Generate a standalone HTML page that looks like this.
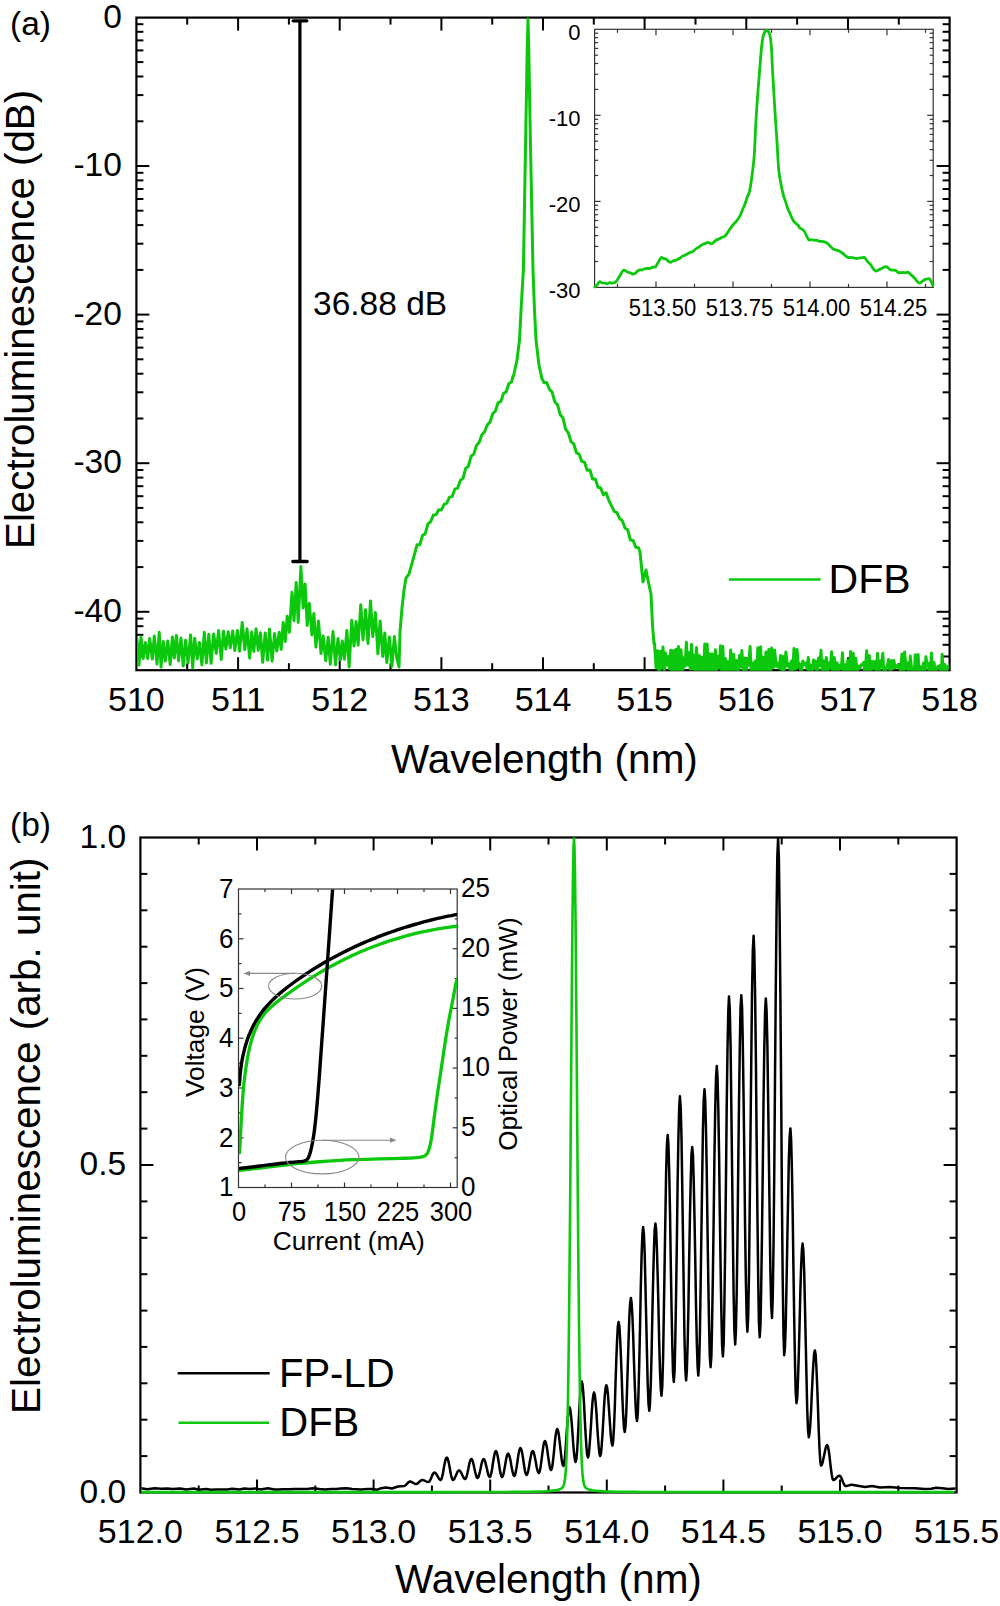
<!DOCTYPE html>
<html><head><meta charset="utf-8"><style>
html,body{margin:0;padding:0;background:#fff;}
svg{display:block;}
text{font-family:"Liberation Sans",sans-serif;fill:#000;}
</style></head><body>
<svg width="1000" height="1606" viewBox="0 0 1000 1606">
<rect width="1000" height="1606" fill="#fff"/>
<rect x="136.4" y="17.6" width="813.2" height="652.6" fill="none" stroke="#000" stroke-width="2.2"/>
<text x="136.4" y="710.6" font-size="34" text-anchor="middle" >510</text>
<line x1="187.2" y1="670.2" x2="187.2" y2="663.2" stroke="#000" stroke-width="2"/>
<line x1="187.2" y1="17.6" x2="187.2" y2="24.6" stroke="#000" stroke-width="2"/>
<line x1="238.1" y1="670.2" x2="238.1" y2="657.2" stroke="#000" stroke-width="2"/>
<line x1="238.1" y1="17.6" x2="238.1" y2="30.6" stroke="#000" stroke-width="2"/>
<text x="238.1" y="710.6" font-size="34" text-anchor="middle" >511</text>
<line x1="288.9" y1="670.2" x2="288.9" y2="663.2" stroke="#000" stroke-width="2"/>
<line x1="288.9" y1="17.6" x2="288.9" y2="24.6" stroke="#000" stroke-width="2"/>
<line x1="339.7" y1="670.2" x2="339.7" y2="657.2" stroke="#000" stroke-width="2"/>
<line x1="339.7" y1="17.6" x2="339.7" y2="30.6" stroke="#000" stroke-width="2"/>
<text x="339.7" y="710.6" font-size="34" text-anchor="middle" >512</text>
<line x1="390.5" y1="670.2" x2="390.5" y2="663.2" stroke="#000" stroke-width="2"/>
<line x1="390.5" y1="17.6" x2="390.5" y2="24.6" stroke="#000" stroke-width="2"/>
<line x1="441.4" y1="670.2" x2="441.4" y2="657.2" stroke="#000" stroke-width="2"/>
<line x1="441.4" y1="17.6" x2="441.4" y2="30.6" stroke="#000" stroke-width="2"/>
<text x="441.4" y="710.6" font-size="34" text-anchor="middle" >513</text>
<line x1="492.2" y1="670.2" x2="492.2" y2="663.2" stroke="#000" stroke-width="2"/>
<line x1="492.2" y1="17.6" x2="492.2" y2="24.6" stroke="#000" stroke-width="2"/>
<line x1="543" y1="670.2" x2="543" y2="657.2" stroke="#000" stroke-width="2"/>
<line x1="543" y1="17.6" x2="543" y2="30.6" stroke="#000" stroke-width="2"/>
<text x="543" y="710.6" font-size="34" text-anchor="middle" >514</text>
<line x1="593.8" y1="670.2" x2="593.8" y2="663.2" stroke="#000" stroke-width="2"/>
<line x1="593.8" y1="17.6" x2="593.8" y2="24.6" stroke="#000" stroke-width="2"/>
<line x1="644.6" y1="670.2" x2="644.6" y2="657.2" stroke="#000" stroke-width="2"/>
<line x1="644.6" y1="17.6" x2="644.6" y2="30.6" stroke="#000" stroke-width="2"/>
<text x="644.6" y="710.6" font-size="34" text-anchor="middle" >515</text>
<line x1="695.5" y1="670.2" x2="695.5" y2="663.2" stroke="#000" stroke-width="2"/>
<line x1="695.5" y1="17.6" x2="695.5" y2="24.6" stroke="#000" stroke-width="2"/>
<line x1="746.3" y1="670.2" x2="746.3" y2="657.2" stroke="#000" stroke-width="2"/>
<line x1="746.3" y1="17.6" x2="746.3" y2="30.6" stroke="#000" stroke-width="2"/>
<text x="746.3" y="710.6" font-size="34" text-anchor="middle" >516</text>
<line x1="797.1" y1="670.2" x2="797.1" y2="663.2" stroke="#000" stroke-width="2"/>
<line x1="797.1" y1="17.6" x2="797.1" y2="24.6" stroke="#000" stroke-width="2"/>
<line x1="848" y1="670.2" x2="848" y2="657.2" stroke="#000" stroke-width="2"/>
<line x1="848" y1="17.6" x2="848" y2="30.6" stroke="#000" stroke-width="2"/>
<text x="848" y="710.6" font-size="34" text-anchor="middle" >517</text>
<line x1="898.8" y1="670.2" x2="898.8" y2="663.2" stroke="#000" stroke-width="2"/>
<line x1="898.8" y1="17.6" x2="898.8" y2="24.6" stroke="#000" stroke-width="2"/>
<text x="949.6" y="710.6" font-size="34" text-anchor="middle" >518</text>
<text x="121.9" y="27.6" font-size="33.5" text-anchor="end" >0</text>
<line x1="136.4" y1="24.2" x2="143.4" y2="24.2" stroke="#000" stroke-width="2"/>
<line x1="949.6" y1="24.2" x2="942.6" y2="24.2" stroke="#000" stroke-width="2"/>
<line x1="136.4" y1="31.8" x2="143.4" y2="31.8" stroke="#000" stroke-width="2"/>
<line x1="949.6" y1="31.8" x2="942.6" y2="31.8" stroke="#000" stroke-width="2"/>
<line x1="136.4" y1="40.4" x2="143.4" y2="40.4" stroke="#000" stroke-width="2"/>
<line x1="949.6" y1="40.4" x2="942.6" y2="40.4" stroke="#000" stroke-width="2"/>
<line x1="136.4" y1="50.4" x2="143.4" y2="50.4" stroke="#000" stroke-width="2"/>
<line x1="949.6" y1="50.4" x2="942.6" y2="50.4" stroke="#000" stroke-width="2"/>
<line x1="136.4" y1="62.1" x2="143.4" y2="62.1" stroke="#000" stroke-width="2"/>
<line x1="949.6" y1="62.1" x2="942.6" y2="62.1" stroke="#000" stroke-width="2"/>
<line x1="136.4" y1="76.5" x2="143.4" y2="76.5" stroke="#000" stroke-width="2"/>
<line x1="949.6" y1="76.5" x2="942.6" y2="76.5" stroke="#000" stroke-width="2"/>
<line x1="136.4" y1="95.1" x2="143.4" y2="95.1" stroke="#000" stroke-width="2"/>
<line x1="949.6" y1="95.1" x2="942.6" y2="95.1" stroke="#000" stroke-width="2"/>
<line x1="136.4" y1="121.3" x2="143.4" y2="121.3" stroke="#000" stroke-width="2"/>
<line x1="949.6" y1="121.3" x2="942.6" y2="121.3" stroke="#000" stroke-width="2"/>
<line x1="136.4" y1="166" x2="149.4" y2="166" stroke="#000" stroke-width="2"/>
<line x1="949.6" y1="166" x2="936.6" y2="166" stroke="#000" stroke-width="2"/>
<text x="121.9" y="176.2" font-size="33.5" text-anchor="end" >-10</text>
<line x1="136.4" y1="172.8" x2="143.4" y2="172.8" stroke="#000" stroke-width="2"/>
<line x1="949.6" y1="172.8" x2="942.6" y2="172.8" stroke="#000" stroke-width="2"/>
<line x1="136.4" y1="180.4" x2="143.4" y2="180.4" stroke="#000" stroke-width="2"/>
<line x1="949.6" y1="180.4" x2="942.6" y2="180.4" stroke="#000" stroke-width="2"/>
<line x1="136.4" y1="189" x2="143.4" y2="189" stroke="#000" stroke-width="2"/>
<line x1="949.6" y1="189" x2="942.6" y2="189" stroke="#000" stroke-width="2"/>
<line x1="136.4" y1="199" x2="143.4" y2="199" stroke="#000" stroke-width="2"/>
<line x1="949.6" y1="199" x2="942.6" y2="199" stroke="#000" stroke-width="2"/>
<line x1="136.4" y1="210.7" x2="143.4" y2="210.7" stroke="#000" stroke-width="2"/>
<line x1="949.6" y1="210.7" x2="942.6" y2="210.7" stroke="#000" stroke-width="2"/>
<line x1="136.4" y1="225.1" x2="143.4" y2="225.1" stroke="#000" stroke-width="2"/>
<line x1="949.6" y1="225.1" x2="942.6" y2="225.1" stroke="#000" stroke-width="2"/>
<line x1="136.4" y1="243.7" x2="143.4" y2="243.7" stroke="#000" stroke-width="2"/>
<line x1="949.6" y1="243.7" x2="942.6" y2="243.7" stroke="#000" stroke-width="2"/>
<line x1="136.4" y1="269.9" x2="143.4" y2="269.9" stroke="#000" stroke-width="2"/>
<line x1="949.6" y1="269.9" x2="942.6" y2="269.9" stroke="#000" stroke-width="2"/>
<line x1="136.4" y1="314.6" x2="149.4" y2="314.6" stroke="#000" stroke-width="2"/>
<line x1="949.6" y1="314.6" x2="936.6" y2="314.6" stroke="#000" stroke-width="2"/>
<text x="121.9" y="324.8" font-size="33.5" text-anchor="end" >-20</text>
<line x1="136.4" y1="321.4" x2="143.4" y2="321.4" stroke="#000" stroke-width="2"/>
<line x1="949.6" y1="321.4" x2="942.6" y2="321.4" stroke="#000" stroke-width="2"/>
<line x1="136.4" y1="329" x2="143.4" y2="329" stroke="#000" stroke-width="2"/>
<line x1="949.6" y1="329" x2="942.6" y2="329" stroke="#000" stroke-width="2"/>
<line x1="136.4" y1="337.6" x2="143.4" y2="337.6" stroke="#000" stroke-width="2"/>
<line x1="949.6" y1="337.6" x2="942.6" y2="337.6" stroke="#000" stroke-width="2"/>
<line x1="136.4" y1="347.6" x2="143.4" y2="347.6" stroke="#000" stroke-width="2"/>
<line x1="949.6" y1="347.6" x2="942.6" y2="347.6" stroke="#000" stroke-width="2"/>
<line x1="136.4" y1="359.3" x2="143.4" y2="359.3" stroke="#000" stroke-width="2"/>
<line x1="949.6" y1="359.3" x2="942.6" y2="359.3" stroke="#000" stroke-width="2"/>
<line x1="136.4" y1="373.7" x2="143.4" y2="373.7" stroke="#000" stroke-width="2"/>
<line x1="949.6" y1="373.7" x2="942.6" y2="373.7" stroke="#000" stroke-width="2"/>
<line x1="136.4" y1="392.3" x2="143.4" y2="392.3" stroke="#000" stroke-width="2"/>
<line x1="949.6" y1="392.3" x2="942.6" y2="392.3" stroke="#000" stroke-width="2"/>
<line x1="136.4" y1="418.5" x2="143.4" y2="418.5" stroke="#000" stroke-width="2"/>
<line x1="949.6" y1="418.5" x2="942.6" y2="418.5" stroke="#000" stroke-width="2"/>
<line x1="136.4" y1="463.2" x2="149.4" y2="463.2" stroke="#000" stroke-width="2"/>
<line x1="949.6" y1="463.2" x2="936.6" y2="463.2" stroke="#000" stroke-width="2"/>
<text x="121.9" y="473.4" font-size="33.5" text-anchor="end" >-30</text>
<line x1="136.4" y1="470" x2="143.4" y2="470" stroke="#000" stroke-width="2"/>
<line x1="949.6" y1="470" x2="942.6" y2="470" stroke="#000" stroke-width="2"/>
<line x1="136.4" y1="477.6" x2="143.4" y2="477.6" stroke="#000" stroke-width="2"/>
<line x1="949.6" y1="477.6" x2="942.6" y2="477.6" stroke="#000" stroke-width="2"/>
<line x1="136.4" y1="486.2" x2="143.4" y2="486.2" stroke="#000" stroke-width="2"/>
<line x1="949.6" y1="486.2" x2="942.6" y2="486.2" stroke="#000" stroke-width="2"/>
<line x1="136.4" y1="496.2" x2="143.4" y2="496.2" stroke="#000" stroke-width="2"/>
<line x1="949.6" y1="496.2" x2="942.6" y2="496.2" stroke="#000" stroke-width="2"/>
<line x1="136.4" y1="507.9" x2="143.4" y2="507.9" stroke="#000" stroke-width="2"/>
<line x1="949.6" y1="507.9" x2="942.6" y2="507.9" stroke="#000" stroke-width="2"/>
<line x1="136.4" y1="522.3" x2="143.4" y2="522.3" stroke="#000" stroke-width="2"/>
<line x1="949.6" y1="522.3" x2="942.6" y2="522.3" stroke="#000" stroke-width="2"/>
<line x1="136.4" y1="540.9" x2="143.4" y2="540.9" stroke="#000" stroke-width="2"/>
<line x1="949.6" y1="540.9" x2="942.6" y2="540.9" stroke="#000" stroke-width="2"/>
<line x1="136.4" y1="567.1" x2="143.4" y2="567.1" stroke="#000" stroke-width="2"/>
<line x1="949.6" y1="567.1" x2="942.6" y2="567.1" stroke="#000" stroke-width="2"/>
<line x1="136.4" y1="611.8" x2="149.4" y2="611.8" stroke="#000" stroke-width="2"/>
<line x1="949.6" y1="611.8" x2="936.6" y2="611.8" stroke="#000" stroke-width="2"/>
<text x="121.9" y="622" font-size="33.5" text-anchor="end" >-40</text>
<line x1="136.4" y1="618.6" x2="143.4" y2="618.6" stroke="#000" stroke-width="2"/>
<line x1="949.6" y1="618.6" x2="942.6" y2="618.6" stroke="#000" stroke-width="2"/>
<line x1="136.4" y1="626.2" x2="143.4" y2="626.2" stroke="#000" stroke-width="2"/>
<line x1="949.6" y1="626.2" x2="942.6" y2="626.2" stroke="#000" stroke-width="2"/>
<line x1="136.4" y1="634.8" x2="143.4" y2="634.8" stroke="#000" stroke-width="2"/>
<line x1="949.6" y1="634.8" x2="942.6" y2="634.8" stroke="#000" stroke-width="2"/>
<line x1="136.4" y1="644.8" x2="143.4" y2="644.8" stroke="#000" stroke-width="2"/>
<line x1="949.6" y1="644.8" x2="942.6" y2="644.8" stroke="#000" stroke-width="2"/>
<line x1="136.4" y1="656.5" x2="143.4" y2="656.5" stroke="#000" stroke-width="2"/>
<line x1="949.6" y1="656.5" x2="942.6" y2="656.5" stroke="#000" stroke-width="2"/>
<clipPath id="ca"><rect x="137" y="0" width="812" height="670.8"/></clipPath>
<g clip-path="url(#ca)">
<path d="M137,639.5 L139,665.1 L141,637.1 L143.2,658.5 L145.5,642.6 L147.7,658.6 L149.7,638.4 L152.3,659.1 L154.3,636.1 L157,664 L159.2,632.3 L161.1,667.1 L163.3,641.4 L165.3,661 L167.8,641 L170.2,664.5 L172.4,636.9 L174.3,658.1 L176.4,635.5 L178.6,660.9 L181,638 L183.2,666 L185.6,640.2 L188,663 L190.6,634.9 L192.7,667.9 L194.7,638.3 L197.2,658.9 L199.5,642.4 L201.9,664.9 L204.3,632.2 L206.4,663 L208.8,634.2 L211.1,663.3 L213.7,634 L216.2,653.4 L218.6,630.4 L221.3,659.5 L223.5,631.3 L225.9,649.1 L228.2,631.7 L230.2,647.8 L232.7,630.9 L234.8,650.5 L237.4,630.5 L239.6,651.2 L242.2,622.5 L244.8,649.5 L247,628.8 L249.7,658.1 L251.7,632 L253.8,651.4 L256.1,628.8 L258.2,650.4 L260.4,632.8 L262.7,662.3 L265.2,632.9 L267.6,660.1 L269.5,629.1 L272.1,661.2 L274.6,633.6 L276.8,651.1 L279.2,632.3 L281.2,649.3 L283.2,622.4 L285.2,641.6 L287.2,616.2 L289.4,632.2 L292,592.3 L294,620.7 L296.2,582.6 L298.2,622.4 L300.9,566.5 L303.1,607.9 L305.1,583.9 L307.2,625.4 L309.3,603.3 L311.9,634.9 L313.9,613.4 L315.9,647.1 L318.5,621 L321,653.6 L323.2,635.9 L325.7,660.7 L328.2,637.3 L330.3,664.3 L333,631.6 L335.5,664.8 L338,638.6 L340.4,660 L342.3,640.9 L344.4,659.2 L346.9,630.5 L349.1,666.9 L351.8,620.2 L354,646 L356.1,621.4 L358.1,645.1 L360.8,604.7 L363,639.8 L365.6,609.7 L368,643.5 L370.5,600.9 L372.8,636.6 L375.4,612.6 L377.9,653.8 L380.1,620.9 L382.8,656.5 L384.8,632.9 L386.8,662.6 L389.4,637.1 L391.9,666.3 L394.4,636.5 L396.7,657.8 L399,667 L400,632 L401,620 L402,608 L403,599 L404,590 L405,584 L406,578 L407,576.7 L408,575.3 L409,574 L411.7,564.3 L414.4,554.7 L417.1,544.7 L419.8,544.8 L422.5,535.5 L425.2,533.9 L427.9,523.9 L430.6,521.8 L433.3,515.1 L436,514.7 L438.7,509.7 L441.4,509.9 L444.1,504.3 L446.8,503.2 L449.5,497.1 L452.2,496.6 L454.9,489.1 L457.6,488.2 L460.3,480.4 L463,478.4 L465.7,468.4 L468.4,466.1 L471.1,456.2 L473.8,454.1 L476.5,445.4 L479.2,442.2 L481.9,434.7 L484.6,431.8 L487.3,424.8 L490,422.2 L492.7,413.7 L495.4,411 L498.1,402.6 L500.8,401.5 L503.5,393.6 L506.2,391.7 L508.9,383.5 L511.6,382 L513,376.2 L513.5,376 L513.8,374.6 L514.3,372.3 L514.6,371 L515.4,367.3 L516.2,363.7 L517,360 L517.8,353.6 L518.6,347.2 L519.4,340.8 L519.5,340 L519.7,336.2 L520.2,326.7 L521,311.4 L521.6,300 L521.8,296.7 L522.4,286.7 L522.6,283.3 L523.4,270 L524.2,223.3 L524.6,200 L525,177.1 L525.1,171.4 L525.8,131.4 L526,120 L526.6,85 L527.2,50 L527.4,42.3 L527.8,26.8 L528,19 L528.2,26.8 L528.8,50 L529,61.7 L529.8,108.3 L530,120 L530.5,145 L530.6,150 L531.4,190 L531.6,200 L532.2,230 L533,270 L533.2,275.3 L533.8,291.3 L534.5,310 L534.6,312 L535.4,328 L535.9,338 L536,340 L536.2,341.7 L537,348.3 L537.8,355 L538.6,361.7 L539,365 L539.4,366.9 L540.2,370.6 L541,374.3 L541.3,375.7 L541.8,378.1 L542,379 L542.6,379.6 L544,382.7 L546.7,382.6 L549.4,389.3 L552.1,392.1 L554.8,401.9 L557.5,404.7 L560.2,414.7 L562.9,417.7 L565.6,429.2 L568.3,432.8 L571,441.6 L573.7,443.8 L576.4,452.8 L579.1,454.1 L581.8,461.4 L584.5,462.2 L587.2,470.3 L589.9,469.9 L592.6,479 L595.3,478.9 L598,487.3 L600.7,488 L603.4,494.9 L606.1,492.8 L608.8,500.3 L611.5,505.8 L614.2,511.3 L616.9,512.6 L619.6,518.5 L622.3,520.7 L625,528.1 L627.7,529.8 L630.4,540 L633.1,540.4 L635.8,547.3 L638.5,547.7 L640,552 L643,582 L646,570 L649,585 L650,589.5 L651,594 L652,614.7 L652.5,625 L653,631.3 L654,644 L654.5,643.3 L656.1,668 L657.7,650.7 L659.3,679 L660.4,651.3 L661.7,667.5 L663,647.1 L664.3,671.9 L665.5,652.9 L666.8,665.2 L668.4,656.4 L669.6,668.8 L670.7,650.3 L671.8,671.6 L673.4,650.5 L674.6,680.5 L676,649.3 L677.1,676.4 L678.4,646.4 L679.8,678.4 L681,649.7 L682.5,672.2 L683.8,657.7 L685,666.3 L686.4,642.3 L687.5,664.9 L688.7,652.6 L690.2,669.2 L691.6,644.2 L692.7,668.5 L693.8,655.3 L695,672.5 L696.5,647.6 L697.9,672.9 L699.4,655.5 L700.8,681.7 L702.1,657.5 L703.5,671.3 L704.8,644.1 L705.9,677.3 L707.1,643.9 L708.7,679.7 L710.1,653.8 L711.3,672.3 L712.5,654.1 L714.1,681.5 L715.5,649.7 L716.7,670.4 L717.8,656.3 L719.2,667.6 L720.5,645.8 L721.7,671.2 L722.8,646.2 L724,674.5 L725.4,658.4 L726.8,679.8 L728.1,661.6 L729.3,677 L730.7,649.9 L732.3,675.3 L733.7,654.3 L735.1,673.1 L736.6,660.6 L738,680.1 L739.5,655.4 L740.6,666.4 L741.9,650.5 L743.2,675.3 L744.6,658.1 L745.8,678.4 L747.2,658.7 L748.7,665.2 L750.1,646.5 L751.4,677.1 L752.6,662.9 L753.9,670.9 L755.2,661.1 L756.7,675.6 L757.8,647.8 L759.3,669.5 L760.6,646.8 L761.9,676.1 L763.3,657.2 L764.7,672.4 L766,652 L767.2,681.6 L768.8,649.5 L770.3,681.4 L771.6,648.1 L773.2,667.8 L774.6,650.1 L776.2,666.4 L777.7,663.1 L779.1,668.2 L780.7,655.5 L781.8,672.9 L783.1,656.6 L784.4,669.7 L785.9,651.9 L787.4,666.2 L789,663.7 L790.2,670.7 L791.5,661 L792.8,671.7 L794,648.4 L795.6,669.1 L797.1,649.5 L798.5,667.4 L799.8,663.9 L801.3,675.4 L802.8,661.1 L804.3,664.9 L805.7,663 L807.2,669.2 L808.3,657.5 L809.6,670.2 L810.9,665.2 L812.1,675.8 L813.4,660.1 L814.5,666.9 L815.7,661.1 L817,680.3 L818.6,658 L819.8,665.6 L821,650.3 L822.3,674.3 L823.8,660.7 L825.1,673.4 L826.4,657.6 L827.6,681.4 L828.8,662.8 L830.3,667.9 L831.6,651.7 L832.9,681.2 L834.4,657.6 L835.5,676.8 L837.1,662.8 L838.2,671 L839.7,665.3 L841.3,668.5 L842.5,652.8 L843.9,680.9 L845.4,664.7 L846.7,673.9 L847.8,660 L849.4,675.6 L850.6,651.5 L852.1,676.6 L853.2,653.2 L854.6,671 L855.8,658.3 L857.1,672.3 L858.6,666.2 L860,668.2 L861.2,664.7 L862.5,664.4 L863.8,662.2 L865,676 L866.6,650.7 L867.9,671.6 L869.3,655.4 L870.8,673.1 L872,661.5 L873.5,668.2 L874.7,661.4 L876.3,672.9 L877.5,653.3 L878.9,681.1 L880.1,660.8 L881.7,666.6 L882.8,653.3 L884.3,679.9 L885.8,667.5 L887.1,667.3 L888.6,659.4 L890.1,670.8 L891.4,660.8 L892.5,669 L893.7,660.4 L895.3,667.7 L896.6,666.8 L897.9,664.9 L899.3,667.8 L900.4,670.6 L902,654 L903.5,677.8 L904.6,652 L906.2,668.6 L907.7,662.8 L908.9,681.2 L910.3,656.1 L911.6,669 L912.7,668.1 L914.1,681 L915.2,654.8 L916.8,681.2 L918.1,654.6 L919.4,680.7 L920.6,666.8 L922.1,677.9 L923.5,663.1 L924.8,678.1 L925.9,656.8 L927.2,665.2 L928.3,663.3 L929.9,679.9 L931.5,652.9 L932.6,673 L934.1,662.6 L935.4,675.2 L936.8,668.2 L938.2,666.2 L939.8,665.8 L941,677.3 L942.2,654.2 L943.4,679.9 L944.8,664.4 L946.4,673.1 L947.6,666.8 L949.2,665.8" fill="none" stroke="#0cc80c" stroke-width="3" stroke-linejoin="round" stroke-linecap="round" />
</g>
<line x1="299.9" y1="20.8" x2="299.9" y2="561.5" stroke="#000" stroke-width="3.2"/>
<path d="M293.2,20.8 L306.8,20.8 M292.8,561.5 L307.2,561.5" stroke="#000" stroke-width="3.3" stroke-linecap="round"/>
<text x="313" y="315.4" font-size="33.5" text-anchor="start" >36.88 dB</text>
<line x1="728.8" y1="579.5" x2="820.6" y2="579.5" stroke="#0cc80c" stroke-width="2.6"/>
<text x="828.6" y="593" font-size="41" text-anchor="start" >DFB</text>
<text x="391" y="772.5" font-size="40.5" text-anchor="start" >Wavelength (nm)</text>
<text transform="translate(33.9,549) rotate(-90)" font-size="40.3">Electroluminescence (dB)</text>
<text x="10" y="35.2" font-size="33.5" text-anchor="start" >(a)</text>
<rect x="594.6" y="29.3" width="338.6" height="258.09999999999997" fill="#fff" stroke="#333" stroke-width="1.2"/>
<line x1="617.5" y1="287.4" x2="617.5" y2="283.9" stroke="#333" stroke-width="1.2"/>
<line x1="617.5" y1="29.3" x2="617.5" y2="32.8" stroke="#333" stroke-width="1.2"/>
<line x1="656" y1="287.4" x2="656" y2="281.4" stroke="#333" stroke-width="1.2"/>
<line x1="656" y1="29.3" x2="656" y2="35.3" stroke="#333" stroke-width="1.2"/>
<line x1="694.5" y1="287.4" x2="694.5" y2="283.9" stroke="#333" stroke-width="1.2"/>
<line x1="694.5" y1="29.3" x2="694.5" y2="32.8" stroke="#333" stroke-width="1.2"/>
<line x1="733" y1="287.4" x2="733" y2="281.4" stroke="#333" stroke-width="1.2"/>
<line x1="733" y1="29.3" x2="733" y2="35.3" stroke="#333" stroke-width="1.2"/>
<line x1="771.5" y1="287.4" x2="771.5" y2="283.9" stroke="#333" stroke-width="1.2"/>
<line x1="771.5" y1="29.3" x2="771.5" y2="32.8" stroke="#333" stroke-width="1.2"/>
<line x1="810" y1="287.4" x2="810" y2="281.4" stroke="#333" stroke-width="1.2"/>
<line x1="810" y1="29.3" x2="810" y2="35.3" stroke="#333" stroke-width="1.2"/>
<line x1="848.5" y1="287.4" x2="848.5" y2="283.9" stroke="#333" stroke-width="1.2"/>
<line x1="848.5" y1="29.3" x2="848.5" y2="32.8" stroke="#333" stroke-width="1.2"/>
<line x1="887" y1="287.4" x2="887" y2="281.4" stroke="#333" stroke-width="1.2"/>
<line x1="887" y1="29.3" x2="887" y2="35.3" stroke="#333" stroke-width="1.2"/>
<line x1="925.5" y1="287.4" x2="925.5" y2="283.9" stroke="#333" stroke-width="1.2"/>
<line x1="925.5" y1="29.3" x2="925.5" y2="32.8" stroke="#333" stroke-width="1.2"/>
<text transform="translate(662.5,315.8) scale(1,1.05)" font-size="22" text-anchor="middle" >513.50</text>
<text transform="translate(739.5,315.8) scale(1,1.05)" font-size="22" text-anchor="middle" >513.75</text>
<text transform="translate(816.5,315.8) scale(1,1.05)" font-size="22" text-anchor="middle" >514.00</text>
<text transform="translate(893.5,315.8) scale(1,1.05)" font-size="22" text-anchor="middle" >514.25</text>
<text x="580.5" y="40.2" font-size="22" text-anchor="end" >0</text>
<line x1="594.6" y1="33.2" x2="598.1" y2="33.2" stroke="#333" stroke-width="1.2"/>
<line x1="933.2" y1="33.2" x2="929.7" y2="33.2" stroke="#333" stroke-width="1.2"/>
<line x1="594.6" y1="37.6" x2="598.1" y2="37.6" stroke="#333" stroke-width="1.2"/>
<line x1="933.2" y1="37.6" x2="929.7" y2="37.6" stroke="#333" stroke-width="1.2"/>
<line x1="594.6" y1="42.6" x2="598.1" y2="42.6" stroke="#333" stroke-width="1.2"/>
<line x1="933.2" y1="42.6" x2="929.7" y2="42.6" stroke="#333" stroke-width="1.2"/>
<line x1="594.6" y1="48.4" x2="598.1" y2="48.4" stroke="#333" stroke-width="1.2"/>
<line x1="933.2" y1="48.4" x2="929.7" y2="48.4" stroke="#333" stroke-width="1.2"/>
<line x1="594.6" y1="55.2" x2="598.1" y2="55.2" stroke="#333" stroke-width="1.2"/>
<line x1="933.2" y1="55.2" x2="929.7" y2="55.2" stroke="#333" stroke-width="1.2"/>
<line x1="594.6" y1="63.5" x2="598.1" y2="63.5" stroke="#333" stroke-width="1.2"/>
<line x1="933.2" y1="63.5" x2="929.7" y2="63.5" stroke="#333" stroke-width="1.2"/>
<line x1="594.6" y1="74.3" x2="598.1" y2="74.3" stroke="#333" stroke-width="1.2"/>
<line x1="933.2" y1="74.3" x2="929.7" y2="74.3" stroke="#333" stroke-width="1.2"/>
<line x1="594.6" y1="89.4" x2="598.1" y2="89.4" stroke="#333" stroke-width="1.2"/>
<line x1="933.2" y1="89.4" x2="929.7" y2="89.4" stroke="#333" stroke-width="1.2"/>
<line x1="594.6" y1="115.3" x2="600.6" y2="115.3" stroke="#333" stroke-width="1.2"/>
<line x1="933.2" y1="115.3" x2="927.2" y2="115.3" stroke="#333" stroke-width="1.2"/>
<text x="580.5" y="126.2" font-size="22" text-anchor="end" >-10</text>
<line x1="594.6" y1="119.3" x2="598.1" y2="119.3" stroke="#333" stroke-width="1.2"/>
<line x1="933.2" y1="119.3" x2="929.7" y2="119.3" stroke="#333" stroke-width="1.2"/>
<line x1="594.6" y1="123.7" x2="598.1" y2="123.7" stroke="#333" stroke-width="1.2"/>
<line x1="933.2" y1="123.7" x2="929.7" y2="123.7" stroke="#333" stroke-width="1.2"/>
<line x1="594.6" y1="128.7" x2="598.1" y2="128.7" stroke="#333" stroke-width="1.2"/>
<line x1="933.2" y1="128.7" x2="929.7" y2="128.7" stroke="#333" stroke-width="1.2"/>
<line x1="594.6" y1="134.4" x2="598.1" y2="134.4" stroke="#333" stroke-width="1.2"/>
<line x1="933.2" y1="134.4" x2="929.7" y2="134.4" stroke="#333" stroke-width="1.2"/>
<line x1="594.6" y1="141.2" x2="598.1" y2="141.2" stroke="#333" stroke-width="1.2"/>
<line x1="933.2" y1="141.2" x2="929.7" y2="141.2" stroke="#333" stroke-width="1.2"/>
<line x1="594.6" y1="149.6" x2="598.1" y2="149.6" stroke="#333" stroke-width="1.2"/>
<line x1="933.2" y1="149.6" x2="929.7" y2="149.6" stroke="#333" stroke-width="1.2"/>
<line x1="594.6" y1="160.3" x2="598.1" y2="160.3" stroke="#333" stroke-width="1.2"/>
<line x1="933.2" y1="160.3" x2="929.7" y2="160.3" stroke="#333" stroke-width="1.2"/>
<line x1="594.6" y1="175.5" x2="598.1" y2="175.5" stroke="#333" stroke-width="1.2"/>
<line x1="933.2" y1="175.5" x2="929.7" y2="175.5" stroke="#333" stroke-width="1.2"/>
<line x1="594.6" y1="201.4" x2="600.6" y2="201.4" stroke="#333" stroke-width="1.2"/>
<line x1="933.2" y1="201.4" x2="927.2" y2="201.4" stroke="#333" stroke-width="1.2"/>
<text x="580.5" y="212.3" font-size="22" text-anchor="end" >-20</text>
<line x1="594.6" y1="205.3" x2="598.1" y2="205.3" stroke="#333" stroke-width="1.2"/>
<line x1="933.2" y1="205.3" x2="929.7" y2="205.3" stroke="#333" stroke-width="1.2"/>
<line x1="594.6" y1="209.7" x2="598.1" y2="209.7" stroke="#333" stroke-width="1.2"/>
<line x1="933.2" y1="209.7" x2="929.7" y2="209.7" stroke="#333" stroke-width="1.2"/>
<line x1="594.6" y1="214.7" x2="598.1" y2="214.7" stroke="#333" stroke-width="1.2"/>
<line x1="933.2" y1="214.7" x2="929.7" y2="214.7" stroke="#333" stroke-width="1.2"/>
<line x1="594.6" y1="220.5" x2="598.1" y2="220.5" stroke="#333" stroke-width="1.2"/>
<line x1="933.2" y1="220.5" x2="929.7" y2="220.5" stroke="#333" stroke-width="1.2"/>
<line x1="594.6" y1="227.3" x2="598.1" y2="227.3" stroke="#333" stroke-width="1.2"/>
<line x1="933.2" y1="227.3" x2="929.7" y2="227.3" stroke="#333" stroke-width="1.2"/>
<line x1="594.6" y1="235.6" x2="598.1" y2="235.6" stroke="#333" stroke-width="1.2"/>
<line x1="933.2" y1="235.6" x2="929.7" y2="235.6" stroke="#333" stroke-width="1.2"/>
<line x1="594.6" y1="246.4" x2="598.1" y2="246.4" stroke="#333" stroke-width="1.2"/>
<line x1="933.2" y1="246.4" x2="929.7" y2="246.4" stroke="#333" stroke-width="1.2"/>
<line x1="594.6" y1="261.5" x2="598.1" y2="261.5" stroke="#333" stroke-width="1.2"/>
<line x1="933.2" y1="261.5" x2="929.7" y2="261.5" stroke="#333" stroke-width="1.2"/>
<text x="580.5" y="298.3" font-size="22" text-anchor="end" >-30</text>
<path d="M594.8,287 C595.2,286.6 596.4,285.7 597.1,284.8 C597.9,284 598.6,282.1 599.5,281.8 C600.4,281.5 601.4,282.7 602.4,283 C603.3,283.2 604.4,283.1 605.2,283.2 C606,283.3 606.7,283.9 607.4,283.8 C608.2,283.7 608.9,282.7 609.7,282.6 C610.4,282.5 610.9,283.3 611.9,283.2 C612.9,283.1 614.6,283.1 615.7,282.2 C616.8,281.3 617.6,279.4 618.5,278 C619.4,276.6 620.1,275.2 620.9,273.9 C621.7,272.6 622.5,270.9 623.3,270.4 C624.1,269.9 624.9,270.5 625.6,270.8 C626.4,271.1 627.2,272 628,272.3 C628.8,272.6 629.6,272.5 630.4,272.8 C631.2,273.1 632,274.1 632.8,274.2 C633.6,274.3 634.3,273.9 635,273.4 C635.7,273 636.5,272 637.2,271.4 C637.9,270.9 638.6,270.1 639.4,269.9 C640.2,269.7 641.1,270.2 641.9,270 C642.8,269.9 643.6,269 644.5,268.8 C645.3,268.5 646.1,268.6 647,268.5 C647.9,268.4 648.9,268.6 649.9,268.4 C650.8,268.2 651.8,267.5 652.7,267.2 C653.7,266.9 654.6,267.5 655.6,266.6 C656.6,265.7 657.5,263.2 658.5,261.7 C659.4,260.2 660.4,258 661.3,257.5 C662.2,257 662.9,258.4 663.6,258.6 C664.4,258.9 665.2,258.6 666,259 C666.8,259.4 667.6,260.7 668.4,261.3 C669.2,261.8 670,262.4 670.8,262.3 C671.6,262.2 672.4,261.1 673.1,260.8 C673.9,260.5 674.7,260.7 675.5,260.4 C676.3,260.1 677.1,259.6 677.9,259.2 C678.7,258.8 679.5,258.5 680.2,258 C681,257.4 681.8,256.6 682.6,256.1 C683.4,255.6 684.2,255.6 685,255.2 C685.8,254.8 686.7,254.3 687.5,253.9 C688.4,253.4 689.2,252.8 690.1,252.4 C690.9,252.1 691.8,252.3 692.6,251.8 C693.4,251.3 694.2,250.2 695,249.6 C695.8,248.9 696.6,248.4 697.4,247.9 C698.1,247.3 698.9,247.1 699.7,246.5 C700.5,246 701.2,245.1 702.1,244.6 C703,244.1 704,244 705,243.7 C705.9,243.3 706.7,242.3 707.8,242.3 C708.9,242.3 710.5,243.9 711.6,243.8 C712.7,243.7 713.3,242.4 714.1,241.8 C715,241.1 715.8,240.3 716.7,239.8 C717.5,239.4 718.3,239.3 719.2,238.9 C720.1,238.5 721.1,237.8 722,237.3 C723,236.9 723.9,237 724.9,236.2 C725.9,235.4 726.8,233.7 727.8,232.3 C728.7,231 729.6,229.3 730.6,228 C731.6,226.7 732.5,225.4 733.5,224.3 C734.4,223.2 735.2,222.8 736.3,221.4 C737.4,220 739.1,217.6 740.1,215.7 C741.1,213.8 741.7,211.6 742.5,209.7 C743.3,207.8 744.1,206.4 744.9,204.3 C745.7,202.2 746.5,199.5 747.2,197.2 C748,195 748.7,195.2 749.6,191 C750.5,186.8 751.7,178.3 752.5,172 C753.3,165.7 753.8,162.5 754.4,153 C755,143.5 755.5,127.7 756.3,115 C757.1,102.3 758.2,88.2 759.1,77 C760,65.8 760.8,55 761.5,48 C762.2,41 762.6,37.9 763.5,35 C764.4,32.1 765.7,30.5 766.7,30.5 C767.8,30.5 769,32 769.8,35 C770.6,38 771.1,43.1 771.5,48.5 C771.9,53.9 771.8,56.4 772.4,67.5 C773,78.6 774.4,102.3 775.2,115 C776,127.7 776.5,134 777.1,143.5 C777.7,153 778,163.8 779,172 C780,180.2 781.8,188.2 782.8,192.9 C783.8,197.7 784.4,198 785.2,200.5 C786,203 786.7,205.7 787.6,208.1 C788.5,210.5 789.5,212.6 790.5,214.7 C791.4,216.8 792.5,219.1 793.3,220.5 C794.1,221.9 794.8,222.3 795.5,223.1 C796.2,223.8 797,224.1 797.7,224.9 C798.4,225.7 799.1,227.2 799.9,228 C800.7,228.8 801.5,228.7 802.3,229.4 C803.1,230 803.7,230.2 804.7,231.9 C805.7,233.6 807.4,238.2 808.5,239.5 C809.6,240.8 810.4,239.5 811.3,239.7 C812.3,239.8 813.2,240 814.2,240.2 C815.1,240.3 816.1,240.2 817,240.4 C817.9,240.6 818.8,241.2 819.6,241.3 C820.5,241.5 821.4,241.1 822.2,241.3 C823.1,241.4 824,241.8 824.9,242.1 C825.8,242.4 826.6,242.6 827.5,243.3 C828.4,244 829.4,245.5 830.4,246.4 C831.3,247.4 832.2,248.4 833.2,249 C834.2,249.6 835.1,249.5 836,249.8 C837,250.1 838,250.5 838.9,250.9 C839.8,251.3 840.6,251.9 841.4,252.5 C842.3,253.1 843.1,253.7 844,254.4 C844.8,255.1 845.6,256.1 846.5,256.6 C847.4,257.1 848.2,257.6 849.1,257.7 C850,257.8 850.8,257.2 851.7,257.3 C852.6,257.4 853.4,257.9 854.3,258.1 C855.2,258.3 856,258.5 856.9,258.5 C857.8,258.5 858.6,258.1 859.4,258 C860.3,257.8 861.1,257.8 862,257.7 C862.8,257.6 863.6,256.9 864.5,257.5 C865.4,258.1 866.4,260.2 867.4,261.4 C868.3,262.5 869.2,263 870.2,264.2 C871.2,265.4 872.1,267.2 873,268.4 C874,269.6 874.9,271 875.9,271.2 C876.9,271.4 877.8,270.1 878.8,269.7 C879.7,269.2 880.7,268.9 881.6,268.5 C882.5,268.1 883.2,267.4 884,267.1 C884.8,266.8 885.6,266.4 886.4,266.6 C887.2,266.8 888,268 888.8,268.6 C889.5,269.1 890.3,269.6 891.1,269.9 C891.9,270.2 892.7,270.1 893.5,270.2 C894.3,270.3 895.1,270.2 895.9,270.6 C896.6,271 897.4,272.2 898.2,272.6 C899,272.9 899.8,272.7 900.6,272.7 C901.4,272.7 902.3,272.4 903.1,272.5 C904,272.5 904.8,272.9 905.7,272.9 C906.5,272.9 907.1,271.8 908.2,272.3 C909.3,272.8 910.9,274.6 912,275.6 C913.1,276.6 913.7,277.1 914.5,278 C915.4,278.9 916.2,280.3 917.1,281.2 C917.9,282.1 918.7,283.2 919.6,283.2 C920.5,283.2 921.5,281.9 922.5,281.2 C923.4,280.6 924.4,279.8 925.3,279.4 C926.2,279 926.9,278.9 927.6,278.9 C928.4,278.9 929.1,278.3 930,279.4 C930.9,280.5 932.5,284.5 933,285.5" fill="none" stroke="#0cc80c" stroke-width="2.8" stroke-linejoin="round" stroke-linecap="round" />
<rect x="140.4" y="837.5" width="816.2" height="655.0" fill="none" stroke="#000" stroke-width="2.2"/>
<text x="140.4" y="1542.5" font-size="34" text-anchor="middle" >512.0</text>
<line x1="198.7" y1="1492.5" x2="198.7" y2="1485.5" stroke="#000" stroke-width="2"/>
<line x1="198.7" y1="837.5" x2="198.7" y2="844.5" stroke="#000" stroke-width="2"/>
<line x1="257" y1="1492.5" x2="257" y2="1479.5" stroke="#000" stroke-width="2"/>
<line x1="257" y1="837.5" x2="257" y2="850.5" stroke="#000" stroke-width="2"/>
<text x="257" y="1542.5" font-size="34" text-anchor="middle" >512.5</text>
<line x1="315.3" y1="1492.5" x2="315.3" y2="1485.5" stroke="#000" stroke-width="2"/>
<line x1="315.3" y1="837.5" x2="315.3" y2="844.5" stroke="#000" stroke-width="2"/>
<line x1="373.6" y1="1492.5" x2="373.6" y2="1479.5" stroke="#000" stroke-width="2"/>
<line x1="373.6" y1="837.5" x2="373.6" y2="850.5" stroke="#000" stroke-width="2"/>
<text x="373.6" y="1542.5" font-size="34" text-anchor="middle" >513.0</text>
<line x1="431.9" y1="1492.5" x2="431.9" y2="1485.5" stroke="#000" stroke-width="2"/>
<line x1="431.9" y1="837.5" x2="431.9" y2="844.5" stroke="#000" stroke-width="2"/>
<line x1="490.2" y1="1492.5" x2="490.2" y2="1479.5" stroke="#000" stroke-width="2"/>
<line x1="490.2" y1="837.5" x2="490.2" y2="850.5" stroke="#000" stroke-width="2"/>
<text x="490.2" y="1542.5" font-size="34" text-anchor="middle" >513.5</text>
<line x1="548.5" y1="1492.5" x2="548.5" y2="1485.5" stroke="#000" stroke-width="2"/>
<line x1="548.5" y1="837.5" x2="548.5" y2="844.5" stroke="#000" stroke-width="2"/>
<line x1="606.8" y1="1492.5" x2="606.8" y2="1479.5" stroke="#000" stroke-width="2"/>
<line x1="606.8" y1="837.5" x2="606.8" y2="850.5" stroke="#000" stroke-width="2"/>
<text x="606.8" y="1542.5" font-size="34" text-anchor="middle" >514.0</text>
<line x1="665.1" y1="1492.5" x2="665.1" y2="1485.5" stroke="#000" stroke-width="2"/>
<line x1="665.1" y1="837.5" x2="665.1" y2="844.5" stroke="#000" stroke-width="2"/>
<line x1="723.4" y1="1492.5" x2="723.4" y2="1479.5" stroke="#000" stroke-width="2"/>
<line x1="723.4" y1="837.5" x2="723.4" y2="850.5" stroke="#000" stroke-width="2"/>
<text x="723.4" y="1542.5" font-size="34" text-anchor="middle" >514.5</text>
<line x1="781.7" y1="1492.5" x2="781.7" y2="1485.5" stroke="#000" stroke-width="2"/>
<line x1="781.7" y1="837.5" x2="781.7" y2="844.5" stroke="#000" stroke-width="2"/>
<line x1="840" y1="1492.5" x2="840" y2="1479.5" stroke="#000" stroke-width="2"/>
<line x1="840" y1="837.5" x2="840" y2="850.5" stroke="#000" stroke-width="2"/>
<text x="840" y="1542.5" font-size="34" text-anchor="middle" >515.0</text>
<line x1="898.3" y1="1492.5" x2="898.3" y2="1485.5" stroke="#000" stroke-width="2"/>
<line x1="898.3" y1="837.5" x2="898.3" y2="844.5" stroke="#000" stroke-width="2"/>
<text x="956.6" y="1542.5" font-size="34" text-anchor="middle" >515.5</text>
<line x1="140.4" y1="873.9" x2="147.4" y2="873.9" stroke="#000" stroke-width="2"/>
<line x1="956.6" y1="873.9" x2="949.6" y2="873.9" stroke="#000" stroke-width="2"/>
<line x1="140.4" y1="910.3" x2="147.4" y2="910.3" stroke="#000" stroke-width="2"/>
<line x1="956.6" y1="910.3" x2="949.6" y2="910.3" stroke="#000" stroke-width="2"/>
<line x1="140.4" y1="946.7" x2="147.4" y2="946.7" stroke="#000" stroke-width="2"/>
<line x1="956.6" y1="946.7" x2="949.6" y2="946.7" stroke="#000" stroke-width="2"/>
<line x1="140.4" y1="983.1" x2="147.4" y2="983.1" stroke="#000" stroke-width="2"/>
<line x1="956.6" y1="983.1" x2="949.6" y2="983.1" stroke="#000" stroke-width="2"/>
<line x1="140.4" y1="1019.4" x2="147.4" y2="1019.4" stroke="#000" stroke-width="2"/>
<line x1="956.6" y1="1019.4" x2="949.6" y2="1019.4" stroke="#000" stroke-width="2"/>
<line x1="140.4" y1="1055.8" x2="147.4" y2="1055.8" stroke="#000" stroke-width="2"/>
<line x1="956.6" y1="1055.8" x2="949.6" y2="1055.8" stroke="#000" stroke-width="2"/>
<line x1="140.4" y1="1092.2" x2="147.4" y2="1092.2" stroke="#000" stroke-width="2"/>
<line x1="956.6" y1="1092.2" x2="949.6" y2="1092.2" stroke="#000" stroke-width="2"/>
<line x1="140.4" y1="1128.6" x2="147.4" y2="1128.6" stroke="#000" stroke-width="2"/>
<line x1="956.6" y1="1128.6" x2="949.6" y2="1128.6" stroke="#000" stroke-width="2"/>
<line x1="140.4" y1="1165" x2="153.4" y2="1165" stroke="#000" stroke-width="2"/>
<line x1="956.6" y1="1165" x2="943.6" y2="1165" stroke="#000" stroke-width="2"/>
<line x1="140.4" y1="1201.4" x2="147.4" y2="1201.4" stroke="#000" stroke-width="2"/>
<line x1="956.6" y1="1201.4" x2="949.6" y2="1201.4" stroke="#000" stroke-width="2"/>
<line x1="140.4" y1="1237.8" x2="147.4" y2="1237.8" stroke="#000" stroke-width="2"/>
<line x1="956.6" y1="1237.8" x2="949.6" y2="1237.8" stroke="#000" stroke-width="2"/>
<line x1="140.4" y1="1274.2" x2="147.4" y2="1274.2" stroke="#000" stroke-width="2"/>
<line x1="956.6" y1="1274.2" x2="949.6" y2="1274.2" stroke="#000" stroke-width="2"/>
<line x1="140.4" y1="1310.6" x2="147.4" y2="1310.6" stroke="#000" stroke-width="2"/>
<line x1="956.6" y1="1310.6" x2="949.6" y2="1310.6" stroke="#000" stroke-width="2"/>
<line x1="140.4" y1="1346.9" x2="147.4" y2="1346.9" stroke="#000" stroke-width="2"/>
<line x1="956.6" y1="1346.9" x2="949.6" y2="1346.9" stroke="#000" stroke-width="2"/>
<line x1="140.4" y1="1383.3" x2="147.4" y2="1383.3" stroke="#000" stroke-width="2"/>
<line x1="956.6" y1="1383.3" x2="949.6" y2="1383.3" stroke="#000" stroke-width="2"/>
<line x1="140.4" y1="1419.7" x2="147.4" y2="1419.7" stroke="#000" stroke-width="2"/>
<line x1="956.6" y1="1419.7" x2="949.6" y2="1419.7" stroke="#000" stroke-width="2"/>
<line x1="140.4" y1="1456.1" x2="147.4" y2="1456.1" stroke="#000" stroke-width="2"/>
<line x1="956.6" y1="1456.1" x2="949.6" y2="1456.1" stroke="#000" stroke-width="2"/>
<text x="126.2" y="847.5" font-size="33.5" text-anchor="end" >1.0</text>
<text x="126.2" y="1175" font-size="33.5" text-anchor="end" >0.5</text>
<text x="126.2" y="1502.5" font-size="33.5" text-anchor="end" >0.0</text>
<text x="395" y="1593.4" font-size="40.5" text-anchor="start" >Wavelength (nm)</text>
<text transform="translate(39.6,1414) rotate(-90)" font-size="40.5" textLength="556.5" lengthAdjust="spacingAndGlyphs">Electroluminescence (arb. unit)</text>
<text x="10" y="836" font-size="33.5" text-anchor="start" >(b)</text>
<clipPath id="cb"><rect x="141.4" y="836" width="814.2" height="658"/></clipPath>
<g clip-path="url(#cb)">
<path d="M141,1488.2 L147.2,1489.2 L154.8,1488.3 L161.3,1488.8 L167.4,1488.4 L172.5,1489 L180.2,1488.4 L186.1,1489.5 L194,1488.5 L198.5,1489.7 L206.4,1489 L210.6,1489.7 L216.2,1489.6 L222.7,1489.5 L227.3,1489.5 L232.2,1488.8 L239.6,1489.5 L244.3,1488.5 L249.9,1489 L255.5,1488.4 L260.4,1489.4 L268,1488.3 L274.3,1489.4 L278.4,1489.5 L282.9,1489.2 L289.1,1489.2 L294.3,1488.9 L300.7,1488.9 L307.3,1488.9 L313,1488.2 L319.5,1489 L324.5,1489.4 L331.6,1488.9 L336.3,1489 L340.7,1488.4 L346.5,1488.3 L352.2,1489 L356.4,1489.2 L360.7,1489.4 L367.8,1489 L372,1489 L377.6,1489.7 L380,1488.5 L386,1487.5 L392,1488.5 L398,1486.5 L404,1486 L404.8,1485.8 L405.5,1485.3 L406.2,1484.6 L407,1483.8 L407.8,1482.9 L408.5,1482.2 L409.2,1481.7 L410,1481.5 L410.8,1481.6 L411.5,1481.9 L412.3,1482.3 L413.1,1482.8 L413.8,1483.2 L414.6,1483.6 L415.4,1483.9 L416.1,1484 L416.9,1483.8 L417.7,1483.4 L418.4,1482.8 L419.2,1482 L420,1481.2 L420.7,1480.6 L421.5,1480.2 L422.3,1480 L423,1480.1 L423.8,1480.3 L424.6,1480.6 L425.3,1481 L426.1,1481.4 L426.9,1481.7 L427.6,1481.9 L428.4,1482 L429.2,1481.6 L429.9,1480.6 L430.7,1479.1 L431.5,1477.2 L432.2,1475.4 L433,1473.9 L433.8,1472.9 L434.5,1472.5 L435.3,1472.8 L436.1,1473.6 L436.8,1474.8 L437.6,1476.2 L438.4,1477.7 L439.1,1478.9 L439.9,1479.7 L440.7,1480 L441.4,1479.1 L442.2,1476.7 L443,1473.1 L443.7,1468.8 L444.5,1464.4 L445.3,1460.8 L446,1458.4 L446.8,1457.5 L447.6,1458.4 L448.3,1460.8 L449.1,1464.4 L449.9,1468.8 L450.6,1473.1 L451.4,1476.7 L452.2,1479.1 L452.9,1480 L453.7,1479.6 L454.5,1478.6 L455.2,1477 L456,1475.2 L456.8,1473.4 L457.5,1471.8 L458.3,1470.8 L459.1,1470.4 L459.8,1470.7 L460.6,1471.7 L461.4,1473.1 L462.1,1474.7 L462.9,1476.3 L463.7,1477.7 L464.4,1478.7 L465.2,1479 L466,1478.2 L466.7,1476.1 L467.5,1472.8 L468.3,1469 L469,1465.2 L469.8,1461.9 L470.6,1459.8 L471.4,1459 L472.1,1459.7 L472.9,1461.8 L473.7,1464.9 L474.4,1468.5 L475.2,1472.1 L476,1475.2 L476.7,1477.3 L477.5,1478 L478.3,1477.3 L479,1475.2 L479.8,1472.1 L480.6,1468.5 L481.3,1464.9 L482.1,1461.8 L482.9,1459.7 L483.6,1459 L484.4,1459.7 L485.2,1461.6 L485.9,1464.6 L486.7,1468 L487.5,1471.4 L488.2,1474.4 L489,1476.3 L489.8,1477 L490.5,1476 L491.3,1473.2 L492.1,1469 L492.8,1464 L493.6,1459 L494.4,1454.8 L495.1,1452 L495.9,1451 L496.7,1452 L497.4,1454.8 L498.2,1459 L499,1464 L499.7,1469 L500.5,1473.2 L501.3,1476 L502,1477 L502.8,1476.1 L503.6,1473.6 L504.3,1469.8 L505.1,1465.3 L505.9,1460.8 L506.6,1457 L507.4,1454.5 L508.2,1453.6 L508.9,1454.5 L509.7,1456.9 L510.5,1460.5 L511.2,1464.8 L512,1469.1 L512.8,1472.7 L513.5,1475.1 L514.3,1476 L515.1,1474.9 L515.8,1471.9 L516.6,1467.4 L517.4,1462 L518.1,1456.6 L518.9,1452.1 L519.7,1449.1 L520.4,1448 L521.2,1449 L522,1452 L522.7,1456.3 L523.5,1461.5 L524.3,1466.7 L525,1471 L525.8,1474 L526.6,1475 L527.3,1474.1 L528.1,1471.5 L528.9,1467.6 L529.6,1463 L530.4,1458.4 L531.2,1454.5 L531.9,1451.9 L532.7,1451 L533.5,1451.8 L534.2,1454.2 L535,1457.8 L535.8,1462 L536.5,1466.2 L537.3,1469.8 L538.1,1472.2 L538.8,1473 L539.6,1471.8 L540.4,1468.3 L541.1,1463.1 L541.9,1457 L542.7,1450.9 L543.4,1445.7 L544.2,1442.2 L545,1441 L545.7,1442.1 L546.5,1445.2 L547.3,1450 L548,1455.5 L548.8,1461 L549.6,1465.8 L550.3,1468.9 L551.1,1470 L551.9,1468.4 L552.6,1464 L553.4,1457.3 L554.2,1449.5 L554.9,1441.7 L555.7,1435 L556.5,1430.6 L557.2,1429 L558,1430.4 L558.8,1434.4 L559.5,1440.4 L560.3,1447.5 L561.1,1454.6 L561.8,1460.6 L562.6,1464.6 L563.4,1466 L564.1,1463.8 L564.9,1457.4 L565.7,1447.9 L566.4,1436.7 L567.2,1425.4 L568,1415.9 L568.7,1409.5 L569.5,1407.3 L570.3,1409.4 L571,1415.3 L571.8,1424.2 L572.6,1434.6 L573.3,1445.1 L574.1,1454 L574.9,1459.9 L575.6,1462 L576.4,1458.9 L577.2,1450.2 L577.9,1437.2 L578.7,1421.8 L579.5,1406.3 L580.2,1393.3 L581,1384.6 L581.8,1381.5 L582.5,1384.4 L583.3,1392.6 L584.1,1405 L584.8,1419.5 L585.6,1434 L586.4,1446.4 L587.1,1454.6 L587.9,1457.5 L588.7,1455 L589.4,1448 L590.2,1437.4 L591,1425 L591.7,1412.6 L592.5,1402 L593.3,1395 L594,1392.5 L594.8,1394.9 L595.6,1401.8 L596.4,1412.1 L597.1,1424.2 L597.9,1436.4 L598.7,1446.7 L599.4,1453.6 L600.2,1456 L601,1453.3 L601.7,1445.6 L602.5,1434.1 L603.3,1420.6 L604,1407.1 L604.8,1395.6 L605.6,1387.9 L606.3,1385.2 L607.1,1387.5 L607.9,1394 L608.6,1403.8 L609.4,1415.3 L610.2,1426.9 L610.9,1436.7 L611.7,1443.2 L612.5,1445.5 L613.2,1440.8 L614,1427.4 L614.8,1407.4 L615.5,1383.8 L616.3,1360.1 L617.1,1340.1 L617.8,1326.7 L618.6,1322 L619.4,1326.2 L620.1,1338.1 L620.9,1356 L621.7,1377 L622.4,1398 L623.2,1415.9 L624,1427.8 L624.7,1432 L625.5,1426.9 L626.3,1412.4 L627,1390.6 L627.8,1365 L628.6,1339.4 L629.3,1317.6 L630.1,1303.1 L630.9,1298 L631.6,1302.7 L632.4,1316 L633.2,1336 L633.9,1359.5 L634.7,1383 L635.5,1403 L636.2,1416.3 L637,1421 L637.8,1413.6 L638.5,1392.6 L639.3,1361.1 L640.1,1324 L640.8,1286.9 L641.6,1255.4 L642.4,1234.4 L643.1,1227 L643.9,1234 L644.7,1253.9 L645.4,1283.7 L646.2,1318.9 L647,1354.1 L647.7,1383.9 L648.5,1403.8 L649.3,1410.8 L650,1403.7 L650.8,1383.4 L651.6,1353 L652.3,1317.2 L653.1,1281.3 L653.9,1250.9 L654.6,1230.6 L655.4,1223.5 L656.2,1230.1 L656.9,1248.7 L657.7,1276.7 L658.5,1309.6 L659.2,1342.6 L660,1370.6 L660.8,1389.2 L661.5,1395.8 L662.3,1385.9 L663.1,1357.6 L663.8,1315.3 L664.6,1265.4 L665.4,1215.5 L666.1,1173.2 L666.9,1144.9 L667.7,1135 L668.4,1144.4 L669.2,1171.2 L670,1211.2 L670.7,1258.5 L671.5,1305.8 L672.3,1345.8 L673,1372.6 L673.8,1382 L674.6,1371.1 L675.3,1340.2 L676.1,1293.8 L676.9,1239.2 L677.6,1184.5 L678.4,1138.1 L679.2,1107.2 L679.9,1096.3 L680.7,1107.1 L681.5,1137.9 L682.2,1184 L683,1238.3 L683.8,1292.7 L684.5,1338.8 L685.3,1369.6 L686.1,1380.4 L686.8,1371.5 L687.6,1346.2 L688.4,1308.4 L689.1,1263.7 L689.9,1219 L690.7,1181.2 L691.4,1155.9 L692.2,1147 L693,1155.7 L693.7,1180.5 L694.5,1217.6 L695.3,1261.3 L696,1305 L696.8,1342.1 L697.6,1366.9 L698.3,1375.6 L699.1,1364.7 L699.9,1333.7 L700.6,1287.2 L701.4,1232.4 L702.2,1177.6 L702.9,1131.1 L703.7,1100.1 L704.5,1089.2 L705.2,1099.8 L706,1129.9 L706.8,1175 L707.5,1228.2 L708.3,1281.4 L709.1,1326.5 L709.8,1356.6 L710.6,1367.2 L711.4,1355.7 L712.1,1323.1 L712.9,1274.2 L713.7,1216.6 L714.4,1159 L715.2,1110.1 L716,1077.5 L716.8,1066 L717.5,1077.1 L718.3,1108.5 L719.1,1155.6 L719.8,1211.2 L720.6,1266.8 L721.4,1313.9 L722.1,1345.3 L722.9,1356.4 L723.7,1342.7 L724.4,1303.7 L725.2,1245.3 L726,1176.5 L726.7,1107.6 L727.5,1049.2 L728.3,1010.2 L729,996.5 L729.8,1009.7 L730.6,1047.4 L731.3,1103.9 L732.1,1170.5 L732.9,1237 L733.6,1293.5 L734.4,1331.2 L735.2,1344.4 L735.9,1331.1 L736.7,1293.3 L737.5,1236.6 L738.2,1169.9 L739,1103.1 L739.8,1046.4 L740.5,1008.6 L741.3,995.3 L742.1,1008.1 L742.8,1044.6 L743.6,1099.1 L744.4,1163.5 L745.1,1227.9 L745.9,1282.4 L746.7,1318.9 L747.4,1331.7 L748.2,1316.6 L749,1273.7 L749.7,1209.5 L750.5,1133.8 L751.3,1058 L752,993.8 L752.8,950.9 L753.6,935.8 L754.3,951.1 L755.1,994.6 L755.9,1059.7 L756.6,1136.5 L757.4,1213.3 L758.2,1278.4 L758.9,1321.9 L759.7,1337.2 L760.5,1324.3 L761.2,1287.6 L762,1232.6 L762.8,1167.8 L763.5,1103 L764.3,1048 L765.1,1011.3 L765.8,998.4 L766.6,1010.6 L767.4,1045.2 L768.1,1097 L768.9,1158.2 L769.7,1219.4 L770.4,1271.2 L771.2,1305.8 L772,1318 L772.7,1299.8 L773.5,1247.8 L774.3,1170 L775,1078.2 L775.8,986.5 L776.6,908.7 L777.3,856.7 L778.1,838.5 L778.9,858.2 L779.6,914.2 L780.4,998 L781.2,1096.8 L781.9,1195.7 L782.7,1279.5 L783.5,1335.5 L784.2,1355.2 L785,1346.6 L785.8,1322 L786.5,1285.2 L787.3,1241.8 L788.1,1198.4 L788.8,1161.6 L789.6,1137 L790.4,1128.4 L791.1,1138.9 L791.9,1168.6 L792.7,1213.2 L793.4,1265.8 L794.2,1318.4 L795,1363 L795.7,1392.7 L796.5,1403.2 L797.3,1397.1 L798,1379.8 L798.8,1353.9 L799.6,1323.4 L800.3,1292.9 L801.1,1267 L801.9,1249.7 L802.6,1243.6 L803.4,1251 L804.2,1272 L804.9,1303.4 L805.7,1340.4 L806.5,1377.5 L807.2,1408.9 L808,1429.9 L808.8,1437.3 L809.5,1434 L810.3,1424.6 L811.1,1410.5 L811.8,1393.9 L812.6,1377.2 L813.4,1363.1 L814.1,1353.7 L814.9,1350.4 L815.7,1354.8 L816.4,1367.3 L817.2,1386 L818,1408 L818.7,1430 L819.5,1448.7 L820.3,1461.2 L821,1465.6 L821.8,1464.8 L822.6,1462.6 L823.3,1459.3 L824.1,1455.4 L824.9,1451.5 L825.6,1448.2 L826.4,1446 L827.2,1445.2 L827.9,1446.5 L828.7,1450.3 L829.5,1455.9 L830.2,1462.6 L831,1469.3 L831.8,1474.9 L832.5,1478.7 L833.3,1480 L834.1,1479.8 L834.8,1479.4 L835.6,1478.7 L836.4,1477.9 L837.1,1477 L837.9,1476.3 L838.7,1475.9 L839.5,1475.7 L840.2,1476.1 L841,1477.2 L841.8,1478.9 L842.5,1480.8 L843.3,1482.8 L844.1,1484.5 L844.8,1485.6 L845.6,1486 L846.4,1486 L847.1,1485.8 L847.9,1485.6 L848.7,1485.4 L849.4,1485.2 L850.2,1485 L851,1484.8 L851.7,1484.8 L865,1487 L872,1486 L880,1487.5 L890,1487 L900,1488 L915,1488.3 L925,1488.9 L931,1488.7 L936.4,1487.8 L942.4,1488.3 L948.2,1489 L951.7,1488.8 L956,1488.5" fill="none" stroke="#000" stroke-width="2.5" stroke-linejoin="round" stroke-linecap="round" />
<path d="M141,1492.1 L147,1492.1 L153,1492.1 L159,1492.1 L165,1492.1 L171,1492.1 L177,1492.1 L183,1492.1 L189,1492.1 L195,1492.1 L201,1492.1 L207,1492.1 L213,1492.1 L219,1492.1 L225,1492.1 L231,1492.1 L237,1492.1 L243,1492.1 L249,1492.1 L255,1492.1 L261,1492.1 L267,1492.1 L273,1492.1 L279,1492.1 L285,1492.1 L291,1492.1 L297,1492.1 L303,1492.1 L309,1492.1 L315,1492.1 L321,1492.1 L327,1492.1 L333,1492.1 L339,1492.1 L345,1492.1 L351,1492.1 L357,1492.1 L363,1492.1 L369,1492.1 L375,1492.1 L381,1492.1 L387,1492.1 L393,1492.1 L399,1492.1 L405,1492.1 L411,1492.1 L417,1492.1 L423,1492.1 L429,1492.1 L435,1492.1 L441,1492.1 L447,1492.1 L453,1492.1 L459,1492.1 L465,1492 L471,1492 L477,1492 L483,1492 L489,1492 L495,1492 L501,1492 L507,1492 L513,1491.9 L519,1491.9 L525,1491.8 L531,1491.8 L537,1491.6 L543,1491.5 L549,1491.1 L555,1490.4 L555.5,1490.3 L556,1490.3 L556.5,1490.2 L557,1490 L557.5,1489.9 L558,1489.8 L558.5,1489.7 L559,1489.5 L559.5,1489.3 L560,1489.1 L560.5,1488.9 L561,1488.7 L561.5,1488.4 L562,1488 L562.5,1487.5 L563,1486.8 L563.5,1485.8 L564,1484.3 L564.5,1482.1 L565,1478.8 L565.5,1473.9 L566,1466.7 L566.5,1456.4 L567,1442.1 L567.5,1422.6 L568,1396.9 L568.5,1364.1 L569,1323.6 L569.5,1275.3 L570,1219.9 L570.5,1158.8 L571,1094.4 L571.5,1029.7 L572,968.8 L572.5,915.5 L573,874 L573.5,847.6 L574,838.5 L574.5,847.6 L575,874 L575.5,915.5 L576,968.8 L576.5,1029.7 L577,1094.4 L577.5,1158.8 L578,1219.9 L578.5,1275.3 L579,1323.6 L579.5,1364.1 L580,1396.9 L580.5,1422.6 L581,1442.1 L581.5,1456.4 L582,1466.7 L582.5,1473.9 L583,1478.8 L583.5,1482.1 L584,1484.3 L584.5,1485.8 L585,1486.8 L585.5,1487.5 L586,1488 L586.5,1488.4 L587,1488.7 L587.5,1488.9 L588,1489.1 L588.5,1489.3 L589,1489.5 L589.5,1489.7 L590,1489.8 L590.5,1489.9 L591,1490 L591.5,1490.2 L592,1490.3 L592.5,1490.3 L593,1490.4 L593.5,1490.5 L594,1490.6 L594.5,1490.7 L595,1490.7 L595.5,1490.8 L596,1490.8 L596.5,1490.9 L597,1490.9 L597.5,1491 L598,1491 L598.5,1491.1 L599,1491.1 L605,1491.5 L611,1491.6 L617,1491.8 L623,1491.8 L629,1491.9 L635,1491.9 L641,1492 L647,1492 L653,1492 L659,1492 L665,1492 L671,1492 L677,1492 L683,1492 L689,1492.1 L695,1492.1 L701,1492.1 L707,1492.1 L713,1492.1 L719,1492.1 L725,1492.1 L731,1492.1 L737,1492.1 L743,1492.1 L749,1492.1 L755,1492.1 L761,1492.1 L767,1492.1 L773,1492.1 L779,1492.1 L785,1492.1 L791,1492.1 L797,1492.1 L803,1492.1 L809,1492.1 L815,1492.1 L821,1492.1 L827,1492.1 L833,1492.1 L839,1492.1 L845,1492.1 L851,1492.1 L857,1492.1 L863,1492.1 L869,1492.1 L875,1492.1 L881,1492.1 L887,1492.1 L893,1492.1 L899,1492.1 L905,1492.1 L911,1492.1 L917,1492.1 L923,1492.1 L929,1492.1 L935,1492.1 L941,1492.1 L947,1492.1 L953,1492.1" fill="none" stroke="#0cc80c" stroke-width="2.6" stroke-linejoin="round" stroke-linecap="round" />
</g>
<line x1="177.7" y1="1373.3" x2="269.7" y2="1373.3" stroke="#000" stroke-width="2.4"/>
<text x="279" y="1387.3" font-size="40" text-anchor="start" >FP-LD</text>
<line x1="178.5" y1="1422.7" x2="269" y2="1422.7" stroke="#0cc80c" stroke-width="2.6"/>
<text x="279.3" y="1435.5" font-size="40" text-anchor="start" >DFB</text>
<rect x="238.5" y="889" width="218.7" height="298.5" fill="#fff" stroke="#333" stroke-width="1.2"/>
<line x1="265" y1="1187.5" x2="265" y2="1184.5" stroke="#333" stroke-width="1.2"/>
<line x1="265" y1="889" x2="265" y2="892" stroke="#333" stroke-width="1.2"/>
<line x1="291.5" y1="1187.5" x2="291.5" y2="1182.5" stroke="#333" stroke-width="1.2"/>
<line x1="291.5" y1="889" x2="291.5" y2="894" stroke="#333" stroke-width="1.2"/>
<line x1="318" y1="1187.5" x2="318" y2="1184.5" stroke="#333" stroke-width="1.2"/>
<line x1="318" y1="889" x2="318" y2="892" stroke="#333" stroke-width="1.2"/>
<line x1="344.5" y1="1187.5" x2="344.5" y2="1182.5" stroke="#333" stroke-width="1.2"/>
<line x1="344.5" y1="889" x2="344.5" y2="894" stroke="#333" stroke-width="1.2"/>
<line x1="371" y1="1187.5" x2="371" y2="1184.5" stroke="#333" stroke-width="1.2"/>
<line x1="371" y1="889" x2="371" y2="892" stroke="#333" stroke-width="1.2"/>
<line x1="397.5" y1="1187.5" x2="397.5" y2="1182.5" stroke="#333" stroke-width="1.2"/>
<line x1="397.5" y1="889" x2="397.5" y2="894" stroke="#333" stroke-width="1.2"/>
<line x1="424" y1="1187.5" x2="424" y2="1184.5" stroke="#333" stroke-width="1.2"/>
<line x1="424" y1="889" x2="424" y2="892" stroke="#333" stroke-width="1.2"/>
<line x1="450.5" y1="1187.5" x2="450.5" y2="1182.5" stroke="#333" stroke-width="1.2"/>
<line x1="450.5" y1="889" x2="450.5" y2="894" stroke="#333" stroke-width="1.2"/>
<text transform="translate(239,1221.2) scale(1,1.065)" font-size="25.5" text-anchor="middle" >0</text>
<text transform="translate(292,1221.2) scale(1,1.065)" font-size="25.5" text-anchor="middle" >75</text>
<text transform="translate(345,1221.2) scale(1,1.065)" font-size="25.5" text-anchor="middle" >150</text>
<text transform="translate(398,1221.2) scale(1,1.065)" font-size="25.5" text-anchor="middle" >225</text>
<text transform="translate(451,1221.2) scale(1,1.065)" font-size="25.5" text-anchor="middle" >300</text>
<line x1="238.5" y1="1162.6" x2="241.5" y2="1162.6" stroke="#333" stroke-width="1.2"/>
<line x1="238.5" y1="1137.8" x2="243.5" y2="1137.8" stroke="#333" stroke-width="1.2"/>
<line x1="238.5" y1="1112.9" x2="241.5" y2="1112.9" stroke="#333" stroke-width="1.2"/>
<line x1="238.5" y1="1088" x2="243.5" y2="1088" stroke="#333" stroke-width="1.2"/>
<line x1="238.5" y1="1063.1" x2="241.5" y2="1063.1" stroke="#333" stroke-width="1.2"/>
<line x1="238.5" y1="1038.2" x2="243.5" y2="1038.2" stroke="#333" stroke-width="1.2"/>
<line x1="238.5" y1="1013.4" x2="241.5" y2="1013.4" stroke="#333" stroke-width="1.2"/>
<line x1="238.5" y1="988.5" x2="243.5" y2="988.5" stroke="#333" stroke-width="1.2"/>
<line x1="238.5" y1="963.6" x2="241.5" y2="963.6" stroke="#333" stroke-width="1.2"/>
<line x1="238.5" y1="938.8" x2="243.5" y2="938.8" stroke="#333" stroke-width="1.2"/>
<line x1="238.5" y1="913.9" x2="241.5" y2="913.9" stroke="#333" stroke-width="1.2"/>
<text transform="translate(233.5,1196.2) scale(1,1.065)" font-size="26" text-anchor="end" >1</text>
<text transform="translate(233.5,1146.5) scale(1,1.065)" font-size="26" text-anchor="end" >2</text>
<text transform="translate(233.5,1096.7) scale(1,1.065)" font-size="26" text-anchor="end" >3</text>
<text transform="translate(233.5,1047) scale(1,1.065)" font-size="26" text-anchor="end" >4</text>
<text transform="translate(233.5,997.2) scale(1,1.065)" font-size="26" text-anchor="end" >5</text>
<text transform="translate(233.5,947.5) scale(1,1.065)" font-size="26" text-anchor="end" >6</text>
<text transform="translate(233.5,897.7) scale(1,1.065)" font-size="26" text-anchor="end" >7</text>
<line x1="457.2" y1="1157.7" x2="454.7" y2="1157.7" stroke="#333" stroke-width="1.2"/>
<line x1="457.2" y1="1127.8" x2="452.7" y2="1127.8" stroke="#333" stroke-width="1.2"/>
<line x1="457.2" y1="1098" x2="454.7" y2="1098" stroke="#333" stroke-width="1.2"/>
<line x1="457.2" y1="1068.1" x2="452.7" y2="1068.1" stroke="#333" stroke-width="1.2"/>
<line x1="457.2" y1="1038.2" x2="454.7" y2="1038.2" stroke="#333" stroke-width="1.2"/>
<line x1="457.2" y1="1008.4" x2="452.7" y2="1008.4" stroke="#333" stroke-width="1.2"/>
<line x1="457.2" y1="978.5" x2="454.7" y2="978.5" stroke="#333" stroke-width="1.2"/>
<line x1="457.2" y1="948.7" x2="452.7" y2="948.7" stroke="#333" stroke-width="1.2"/>
<line x1="457.2" y1="918.9" x2="454.7" y2="918.9" stroke="#333" stroke-width="1.2"/>
<text transform="translate(461,1195.5) scale(1,1.05)" font-size="26" text-anchor="start" >0</text>
<text transform="translate(461,1135.8) scale(1,1.05)" font-size="26" text-anchor="start" >5</text>
<text transform="translate(461,1076.1) scale(1,1.05)" font-size="26" text-anchor="start" >10</text>
<text transform="translate(461,1016.4) scale(1,1.05)" font-size="26" text-anchor="start" >15</text>
<text transform="translate(461,956.7) scale(1,1.05)" font-size="26" text-anchor="start" >20</text>
<text transform="translate(461,897) scale(1,1.05)" font-size="26" text-anchor="start" >25</text>
<text x="272.8" y="1249.6" font-size="26.3" text-anchor="start" >Current (mA)</text>
<text transform="translate(203.9,1097) rotate(-90)" font-size="26.3">Voltage (V)</text>
<text transform="translate(517.4,1150.8) rotate(-90)" font-size="26.1">Optical Power (mW)</text>
<clipPath id="ci"><rect x="239" y="889.5" width="218" height="297.5"/></clipPath>
<g clip-path="url(#ci)">
<path d="M239.5,1152.6 L240.2,1141.3 L240.9,1127.5 L241.6,1114.6 L242.3,1103.4 L243,1093.8 L243.7,1085.9 L244.4,1079.1 L245.2,1073.1 L245.9,1067.9 L246.6,1063.2 L247.3,1059 L248,1055.2 L248.7,1051.8 L249.4,1048.6 L250.1,1045.6 L250.8,1042.9 L251.5,1040.4 L252.2,1038.1 L252.9,1035.9 L253.6,1033.9 L254.3,1031.9 L255.1,1030.2 L255.8,1028.5 L256.5,1026.9 L257.2,1025.4 L257.9,1024 L258.6,1022.7 L259.3,1021.4 L260,1020.2 L261,1018.6 L264.3,1014 L267.7,1010.2 L271,1007 L274.4,1004.1 L277.7,1001.4 L281,998.8 L284.4,996.3 L287.7,993.9 L291.1,991.5 L294.4,989.1 L297.7,986.8 L301.1,984.5 L304.4,982.3 L307.7,980.1 L311.1,978 L314.4,975.9 L317.8,973.9 L321.1,971.9 L324.4,970 L327.8,968.1 L331.1,966.3 L334.5,964.5 L337.8,962.7 L341.1,961 L344.5,959.3 L347.8,957.7 L351.2,956.1 L354.5,954.6 L357.8,953.1 L361.2,951.6 L364.5,950.2 L367.8,948.8 L371.2,947.5 L374.5,946.2 L377.9,945 L381.2,943.7 L384.5,942.6 L387.9,941.4 L391.2,940.3 L394.6,939.3 L397.9,938.3 L401.2,937.3 L404.6,936.3 L407.9,935.4 L411.3,934.6 L414.6,933.7 L417.9,932.9 L421.3,932.2 L424.6,931.5 L427.9,930.8 L431.3,930.1 L434.6,929.5 L438,928.9 L441.3,928.4 L444.6,927.8 L448,927.4 L451.3,926.9 L454.7,926.5 L458,926.1" fill="none" stroke="#0cc80c" stroke-width="3.3" stroke-linejoin="round" stroke-linecap="round" />
<path d="M239.4,1084.6 L240.1,1074.8 L240.8,1068.4 L241.5,1063.5 L242.2,1059.3 L243,1055.7 L243.7,1052.5 L244.4,1049.6 L245.1,1047 L245.8,1044.5 L246.5,1042.2 L247.2,1040.1 L247.9,1038.1 L248.6,1036.2 L249.3,1034.4 L250.1,1032.7 L250.8,1031 L251.5,1029.5 L252.2,1028 L252.9,1026.5 L253.6,1025.1 L254.3,1023.8 L255,1022.5 L255.7,1021.3 L256.4,1020.1 L257.2,1018.9 L257.9,1017.8 L258.6,1016.7 L259.3,1015.7 L260,1014.6 L261,1013.2 L264.3,1008.9 L267.7,1005.1 L271,1001.6 L274.4,998.3 L277.7,995.3 L281,992.4 L284.4,989.7 L287.7,987 L291.1,984.5 L294.4,982 L297.7,979.6 L301.1,977.3 L304.4,975 L307.7,972.8 L311.1,970.6 L314.4,968.5 L317.8,966.5 L321.1,964.5 L324.4,962.5 L327.8,960.6 L331.1,958.7 L334.5,956.9 L337.8,955.2 L341.1,953.4 L344.5,951.7 L347.8,950.1 L351.2,948.5 L354.5,946.9 L357.8,945.4 L361.2,943.9 L364.5,942.4 L367.8,941 L371.2,939.6 L374.5,938.3 L377.9,936.9 L381.2,935.6 L384.5,934.4 L387.9,933.2 L391.2,932 L394.6,930.8 L397.9,929.7 L401.2,928.6 L404.6,927.5 L407.9,926.5 L411.3,925.5 L414.6,924.5 L417.9,923.6 L421.3,922.6 L424.6,921.7 L427.9,920.9 L431.3,920 L434.6,919.2 L438,918.4 L441.3,917.7 L444.6,916.9 L448,916.2 L451.3,915.6 L454.7,914.9 L458,914.3" fill="none" stroke="#000" stroke-width="3.4" stroke-linejoin="round" stroke-linecap="round" />
<path d="M238.6,1170.4 C242.2,1170 253.8,1168.7 260,1168 C266.2,1167.3 269.3,1167 276,1166.2 C282.7,1165.4 293.3,1164.1 300,1163.4 C306.7,1162.7 309.3,1162.5 316,1162 C322.7,1161.5 333.3,1160.8 340,1160.4 C346.7,1160 349.3,1159.9 356,1159.6 C362.7,1159.3 372.7,1159 380,1158.8 C387.3,1158.6 394.4,1158.6 400,1158.4 C405.6,1158.2 409.8,1158.2 413.7,1157.9 C417.6,1157.6 421.2,1157.1 423.3,1156.6 C425.4,1156.1 425.3,1155.4 426,1154.8 C426.7,1154.2 426.8,1154.4 427.4,1153.2 C428,1152 428.8,1150.2 429.5,1147.7 C430.2,1145.2 430.7,1143.1 431.5,1138.1 C432.3,1133.1 433.3,1124.3 434.2,1117.5 C435.1,1110.7 435.9,1105 437,1097 C438.1,1089 439.7,1078.7 441.1,1069.6 C442.5,1060.5 443.9,1050.2 445.2,1042.2 C446.4,1034.2 447.4,1028.5 448.6,1021.6 C449.9,1014.6 451.4,1007.1 452.7,1000.5 C454,993.9 455.4,985.5 456.2,982 C457,978.5 457.1,980.5 457.6,979.5 C458.1,978.5 458.8,976.6 459,976" fill="none" stroke="#0cc80c" stroke-width="3.3" stroke-linejoin="round" stroke-linecap="round" />
<path d="M238.6,1168.6 C242.2,1168.2 252.8,1166.9 260,1166 C267.2,1165.1 275.3,1163.9 282,1163.2 C288.7,1162.5 296.3,1161.9 300,1161.6 C303.7,1161.2 302.9,1161.4 304,1161.1 C305.1,1160.8 305.8,1160.6 306.5,1160 C307.2,1159.4 307.9,1158.8 308.5,1157.5 C309.1,1156.2 309.8,1154.2 310.4,1152 C311,1149.8 311.6,1147.3 312.2,1144 C312.8,1140.7 313.5,1137.5 314.2,1132 C314.9,1126.5 315.7,1120 316.5,1111 C317.3,1102 317.8,1096.5 319.2,1078 C320.6,1059.5 322.6,1031.5 324.8,1000 C327,968.5 331.2,909.5 332.6,889 C334.1,868.5 333.4,879 333.5,877" fill="none" stroke="#000" stroke-width="3.4" stroke-linejoin="round" stroke-linecap="round" />
</g>
<ellipse cx="295.2" cy="986.1" rx="26.6" ry="12.9" fill="none" stroke="#888" stroke-width="1.1"/>
<line x1="248" y1="973.4" x2="295" y2="973.4" stroke="#888" stroke-width="1.1"/>
<path d="M243.5,973.4 L250,970.8 L250,976 Z" fill="#888"/>
<ellipse cx="322.2" cy="1157.1" rx="36.7" ry="16.8" fill="none" stroke="#888" stroke-width="1.1"/>
<line x1="322" y1="1140.2" x2="391" y2="1140.2" stroke="#888" stroke-width="1.1"/>
<path d="M396.5,1140.2 L390,1137.6 L390,1142.8 Z" fill="#888"/>
</svg></body></html>
